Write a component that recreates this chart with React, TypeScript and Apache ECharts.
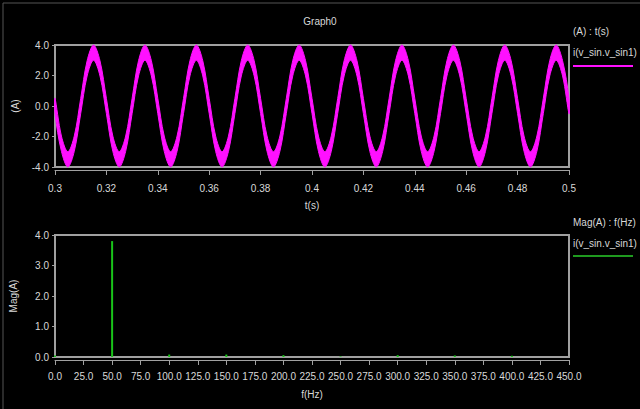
import React, { useEffect, useRef } from "react";
import * as echarts from "echarts";

// Time-domain current (A) — envelope of the switching band
const timeS = [
  0.3, 0.3025, 0.305, 0.3075, 0.31, 0.3125, 0.315, 0.3175,
  0.32, 0.3225, 0.325, 0.3275, 0.33, 0.3325, 0.335, 0.3375,
  0.34, 0.3425, 0.345, 0.3475, 0.35, 0.3525, 0.355, 0.3575,
  0.36, 0.3625, 0.365, 0.3675, 0.37, 0.3725, 0.375, 0.3775,
  0.38, 0.3825, 0.385, 0.3875, 0.39, 0.3925, 0.395, 0.3975,
  0.4, 0.4025, 0.405, 0.4075, 0.41, 0.4125, 0.415, 0.4175,
  0.42, 0.4225, 0.425, 0.4275, 0.43, 0.4325, 0.435, 0.4375,
  0.44, 0.4425, 0.445, 0.4475, 0.45, 0.4525, 0.455, 0.4575,
  0.46, 0.4625, 0.465, 0.4675, 0.47, 0.4725, 0.475, 0.4775,
  0.48, 0.4825, 0.485, 0.4875, 0.49, 0.4925, 0.495, 0.4975,
  0.5,
];
const upperA = [
  0.5, -1.97, -3.0, -1.97, 0.5, 2.97, 4.0, 2.97,
  0.5, -1.97, -3.0, -1.97, 0.5, 2.97, 4.0, 2.97,
  0.5, -1.97, -3.0, -1.97, 0.5, 2.97, 4.0, 2.97,
  0.5, -1.97, -3.0, -1.97, 0.5, 2.97, 4.0, 2.97,
  0.5, -1.97, -3.0, -1.97, 0.5, 2.97, 4.0, 2.97,
  0.5, -1.97, -3.0, -1.97, 0.5, 2.97, 4.0, 2.97,
  0.5, -1.97, -3.0, -1.97, 0.5, 2.97, 4.0, 2.97,
  0.5, -1.97, -3.0, -1.97, 0.5, 2.97, 4.0, 2.97,
  0.5, -1.97, -3.0, -1.97, 0.5, 2.97, 4.0, 2.97,
  0.5, -1.97, -3.0, -1.97, 0.5, 2.97, 4.0, 2.97,
  0.5,
];
const lowerA = [
  -0.5, -2.97, -4.0, -2.97, -0.5, 1.97, 3.0, 1.97,
  -0.5, -2.97, -4.0, -2.97, -0.5, 1.97, 3.0, 1.97,
  -0.5, -2.97, -4.0, -2.97, -0.5, 1.97, 3.0, 1.97,
  -0.5, -2.97, -4.0, -2.97, -0.5, 1.97, 3.0, 1.97,
  -0.5, -2.97, -4.0, -2.97, -0.5, 1.97, 3.0, 1.97,
  -0.5, -2.97, -4.0, -2.97, -0.5, 1.97, 3.0, 1.97,
  -0.5, -2.97, -4.0, -2.97, -0.5, 1.97, 3.0, 1.97,
  -0.5, -2.97, -4.0, -2.97, -0.5, 1.97, 3.0, 1.97,
  -0.5, -2.97, -4.0, -2.97, -0.5, 1.97, 3.0, 1.97,
  -0.5, -2.97, -4.0, -2.97, -0.5, 1.97, 3.0, 1.97,
  -0.5,
];

// Spectrum
const freqHz = [0, 50, 100, 150, 200, 250, 300, 350, 400];
const magA = [0.05, 3.8, 0.08, 0.08, 0.06, 0.02, 0.06, 0.05, 0.04];

const seriesName = "i(v_sin.v_sin1)";
const titleText = "Graph0";
const topLegendTitle = "(A) : t(s)";
const bottomLegendTitle = "Mag(A) : f(Hz)";

const FONT = "'Liberation Sans', Arial, sans-serif";
const TXT = "#d8d8d8";
const BORDER = "#a0a0a0";
const MAGENTA = "#ff10ff";
const GREEN = "#19c419";

export default function App() {
  const ref = useRef<HTMLDivElement>(null);
  useEffect(() => {
    if (!ref.current) return;
    const chart = echarts.init(ref.current, undefined, { renderer: "svg" });
    const axisLabel = { color: TXT, fontFamily: FONT, fontSize: 10 };
    const nameStyle = { color: TXT, fontFamily: FONT, fontSize: 10 };
    const fix1 = (v: number) => v.toFixed(1);
    chart.setOption({
      animation: false,
      backgroundColor: "#000",
      title: {
        text: titleText,
        left: "center",
        top: 11,
        textStyle: { color: TXT, fontFamily: FONT, fontSize: 10, fontWeight: "normal" },
      },
      grid: [
        { left: 55, top: 45, width: 514, height: 122, show: true, borderColor: BORDER, borderWidth: 2, backgroundColor: "transparent" },
        { left: 55, top: 235, width: 514, height: 122, show: true, borderColor: BORDER, borderWidth: 2, backgroundColor: "transparent" },
      ],
      xAxis: [
        {
          type: "value", gridIndex: 0, min: 0.3, max: 0.5, interval: 0.02,
          offset: 3,
          axisLine: { show: true, onZero: false, lineStyle: { color: BORDER, width: 1 } },
          axisTick: { show: true, length: 5, lineStyle: { color: BORDER } },
          splitLine: { show: false },
          axisLabel: { ...axisLabel, margin: 13 },
          name: "t(s)", nameLocation: "middle", nameGap: 30, nameTextStyle: nameStyle,
        },
        {
          type: "value", gridIndex: 1, min: 0, max: 450, interval: 25,
          offset: 3,
          axisLine: { show: true, onZero: false, lineStyle: { color: BORDER, width: 1 } },
          axisTick: { show: true, length: 5, lineStyle: { color: BORDER } },
          splitLine: { show: false },
          axisLabel: { ...axisLabel, margin: 11, formatter: fix1 },
          name: "f(Hz)", nameLocation: "middle", nameGap: 29, nameTextStyle: nameStyle,
        },
      ],
      yAxis: [
        {
          type: "value", gridIndex: 0, min: -4, max: 4, interval: 2,
          axisLine: { show: false, onZero: false },
          axisTick: { show: true, length: 3, lineStyle: { color: BORDER } },
          splitLine: { show: false },
          axisLabel: { ...axisLabel, margin: 6, formatter: fix1 },
          name: "(A)", nameLocation: "middle", nameGap: 35, nameRotate: 90,
          nameTextStyle: nameStyle,
        },
        {
          type: "value", gridIndex: 1, min: 0, max: 4, interval: 1,
          axisLine: { show: false, onZero: false },
          axisTick: { show: true, length: 3, lineStyle: { color: BORDER } },
          splitLine: { show: false },
          axisLabel: { ...axisLabel, margin: 6, formatter: fix1 },
          name: "Mag(A)", nameLocation: "middle", nameGap: 37, nameRotate: 90,
          nameTextStyle: nameStyle,
        },
      ],
      series: [
        {
          type: "custom", name: seriesName, xAxisIndex: 0, yAxisIndex: 0,
          data: timeS.map((t, i) => [t, upperA[i], lowerA[i]]),
          encode: { x: 0, y: [1, 2] },
          renderItem: (params: any, api: any) => {
            if (params.dataIndex !== 0) return null;
            const pts: number[][] = [];
            for (let i = 0; i < timeS.length; i++) pts.push(api.coord([timeS[i], upperA[i]]));
            for (let i = timeS.length - 1; i >= 0; i--) pts.push(api.coord([timeS[i], lowerA[i]]));
            return {
              type: "polygon",
              shape: { points: pts, smooth: 0.34 },
              style: { fill: MAGENTA, stroke: MAGENTA, lineWidth: 1 },
            };
          },
        },
        {
          type: "bar", name: seriesName, xAxisIndex: 1, yAxisIndex: 1,
          barWidth: 2, itemStyle: { color: GREEN },
          data: freqHz.map((f, i) => [f, magA[i]]),
        },
      ],
      graphic: [
        { type: "rect", shape: { x: 3, y: 3, width: 660, height: 430 }, style: { fill: "none", stroke: "#555", lineWidth: 1 }, silent: true },
        { type: "text", x: 573, y: 26, style: { text: topLegendTitle, fill: TXT, font: `10px ${FONT}` } },
        { type: "text", x: 573, y: 47, style: { text: seriesName, fill: TXT, font: `10px ${FONT}` } },
        { type: "line", shape: { x1: 573, y1: 66, x2: 633, y2: 66 }, style: { stroke: MAGENTA, lineWidth: 2 } },
        { type: "text", x: 573, y: 217, style: { text: bottomLegendTitle, fill: TXT, font: `10px ${FONT}` } },
        { type: "text", x: 573, y: 238, style: { text: seriesName, fill: TXT, font: `10px ${FONT}` } },
        { type: "line", shape: { x1: 573, y1: 256, x2: 633, y2: 256 }, style: { stroke: "#1f9a1f", lineWidth: 2 } },
      ],
    });
    return () => chart.dispose();
  }, []);
  return (
    <div
      ref={ref}
      style={{ position: "fixed", left: 0, top: 0, width: 640, height: 409, background: "#000" }}
    />
  );
}
